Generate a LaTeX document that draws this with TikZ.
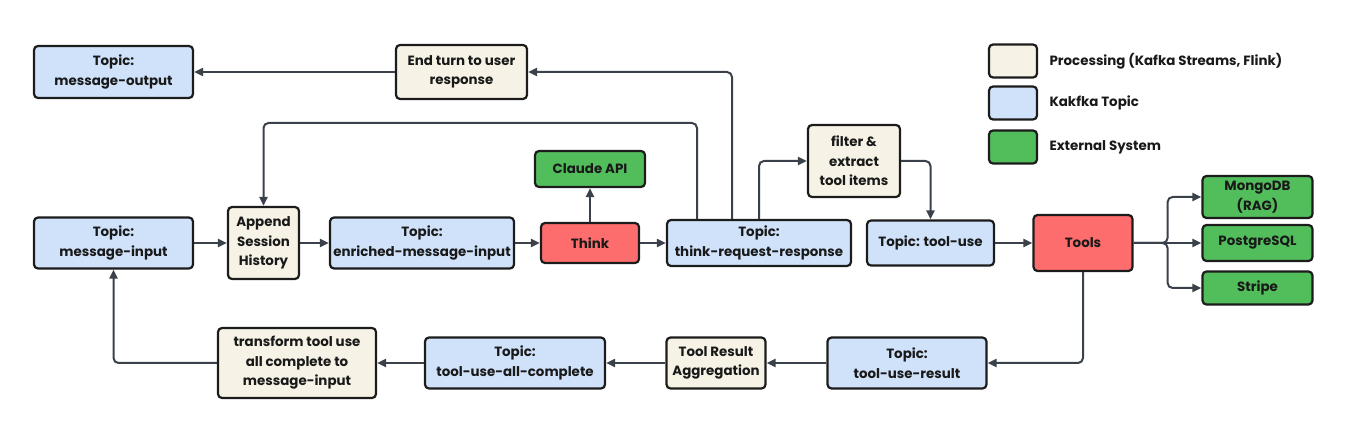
\documentclass[tikz,border=0pt]{standalone}
\usepackage{fontspec}
\setmainfont{Poppins}
\usetikzlibrary{arrows.meta}
\definecolor{procfill}{HTML}{F6F3E6}
\definecolor{topicfill}{HTML}{CFE2FA}
\definecolor{extfill}{HTML}{52BE5B}
\definecolor{actfill}{HTML}{FD6D6D}
\definecolor{edge}{HTML}{1C1C1C}
\definecolor{wire}{HTML}{3B414B}
\begin{document}
\begin{tikzpicture}[x=1pt, y=-1pt,
  every node/.style={font=\bfseries\fontsize{13.4}{19.5}\selectfont, text=black!90},
  box/.style={draw=edge, line width=2.2pt, rounded corners=4pt, align=center, inner sep=0pt},
  proc/.style={box, fill=procfill},
  topic/.style={box, fill=topicfill},
  ext/.style={box, fill=extfill},
  act/.style={box, fill=actfill},
  arr/.style={draw=wire, line width=2pt, rounded corners=5pt, -{Triangle[length=9pt,width=8pt]}}]
\useasboundingbox (0,0) rectangle (1358,430);
% top row
\node[topic, minimum width=159pt, minimum height=52pt] (msgout) at (113.5,72) {Topic:\\message-output};
\node[proc, minimum width=131pt, minimum height=54pt] (endturn) at (461.5,72) {End turn to user\\response};
% main row
\node[topic, minimum width=159pt, minimum height=51pt] (msgin) at (113.5,243) {Topic:\\message-input};
\node[proc, minimum width=71pt, minimum height=72pt] (append) at (263.5,243) {Append\\Session\\History};
\node[topic, minimum width=184pt, minimum height=51pt] (enriched) at (422,243) {Topic:\\enriched-message-input};
\node[act, minimum width=98pt, minimum height=40pt] (think) at (590,243) {Think};
\node[ext, minimum width=110pt, minimum height=36pt] (claude) at (590,169) {Claude API};
\node[topic, minimum width=184pt, minimum height=46pt] (trr) at (759,243) {Topic:\\think-request-response};
\node[proc, minimum width=92pt, minimum height=72pt] (filter) at (854,161) {filter \&\\extract\\tool items};
\node[topic, minimum width=127pt, minimum height=45pt] (tooluse) at (930.5,243) {Topic: tool-use};
\node[act, minimum width=99pt, minimum height=56pt] (tools) at (1083,243) {Tools};
\node[ext, minimum width=110pt, minimum height=42pt] (mongo) at (1257.5,197) {MongoDB\\(RAG)};
\node[ext, minimum width=110pt, minimum height=36pt] (pg) at (1257.5,243) {PostgreSQL};
\node[ext, minimum width=110pt, minimum height=33pt] (stripe) at (1257.5,288) {Stripe};
% bottom row
\node[proc, minimum width=158pt, minimum height=70pt] (transform) at (297,363) {transform tool use\\all complete to\\message-input};
\node[topic, minimum width=180pt, minimum height=51pt] (allcomplete) at (515,363) {Topic:\\tool-use-all-complete};
\node[proc, minimum width=99pt, minimum height=51pt] (agg) at (716,363) {Tool Result\\Aggregation};
\node[topic, minimum width=159pt, minimum height=51pt] (result) at (907,363) {Topic:\\tool-use-result};
% legend
\node[proc, minimum width=48pt, minimum height=33pt] (keyproc) at (1013,61) {};
\node[topic, minimum width=48pt, minimum height=33pt] (keytopic) at (1013,103) {};
\node[ext, minimum width=48pt, minimum height=33pt] (keyext) at (1013,147) {};
\node[anchor=west] (keyproctext) at (1046,61) {Processing (Kafka Streams, Flink)};
\node[anchor=west] (keytopictext) at (1046,103) {Kakfka Topic};
\node[anchor=west] (keyexttext) at (1046,147) {External System};
% connectors
\coordinate (loopy) at (0,123);
\draw[arr] (msgin) -- (append);
\draw[arr] (append) -- (enriched);
\draw[arr] (enriched) -- (think);
\draw[arr] (think) -- (trr);
\draw[arr] (think) -- (claude);
\draw[arr] ([xshift=-62pt]trr.north) -- ([xshift=-62pt]trr.north |- loopy) -| (append.north);
\draw[arr] ([xshift=-27pt]trr.north) |- (endturn.east);
\draw[arr] (endturn) -- (msgout);
\draw[arr] (trr.north) |- (filter.west);
\draw[arr] (filter.east) -| (tooluse.north);
\draw[arr] (tooluse) -- (tools);
\draw[arr] (tools.east) -- ([xshift=34pt]tools.east) |- (mongo.west);
\draw[arr] (tools.east) -- (pg.west);
\draw[arr] (tools.east) -- ([xshift=34pt]tools.east) |- (stripe.west);
\draw[arr] (tools.south) |- (result.east);
\draw[arr] (result) -- (agg);
\draw[arr] (agg) -- (allcomplete);
\draw[arr] (allcomplete) -- (transform);
\draw[arr] (transform.west) -| (msgin.south);
\end{tikzpicture}
\end{document}
